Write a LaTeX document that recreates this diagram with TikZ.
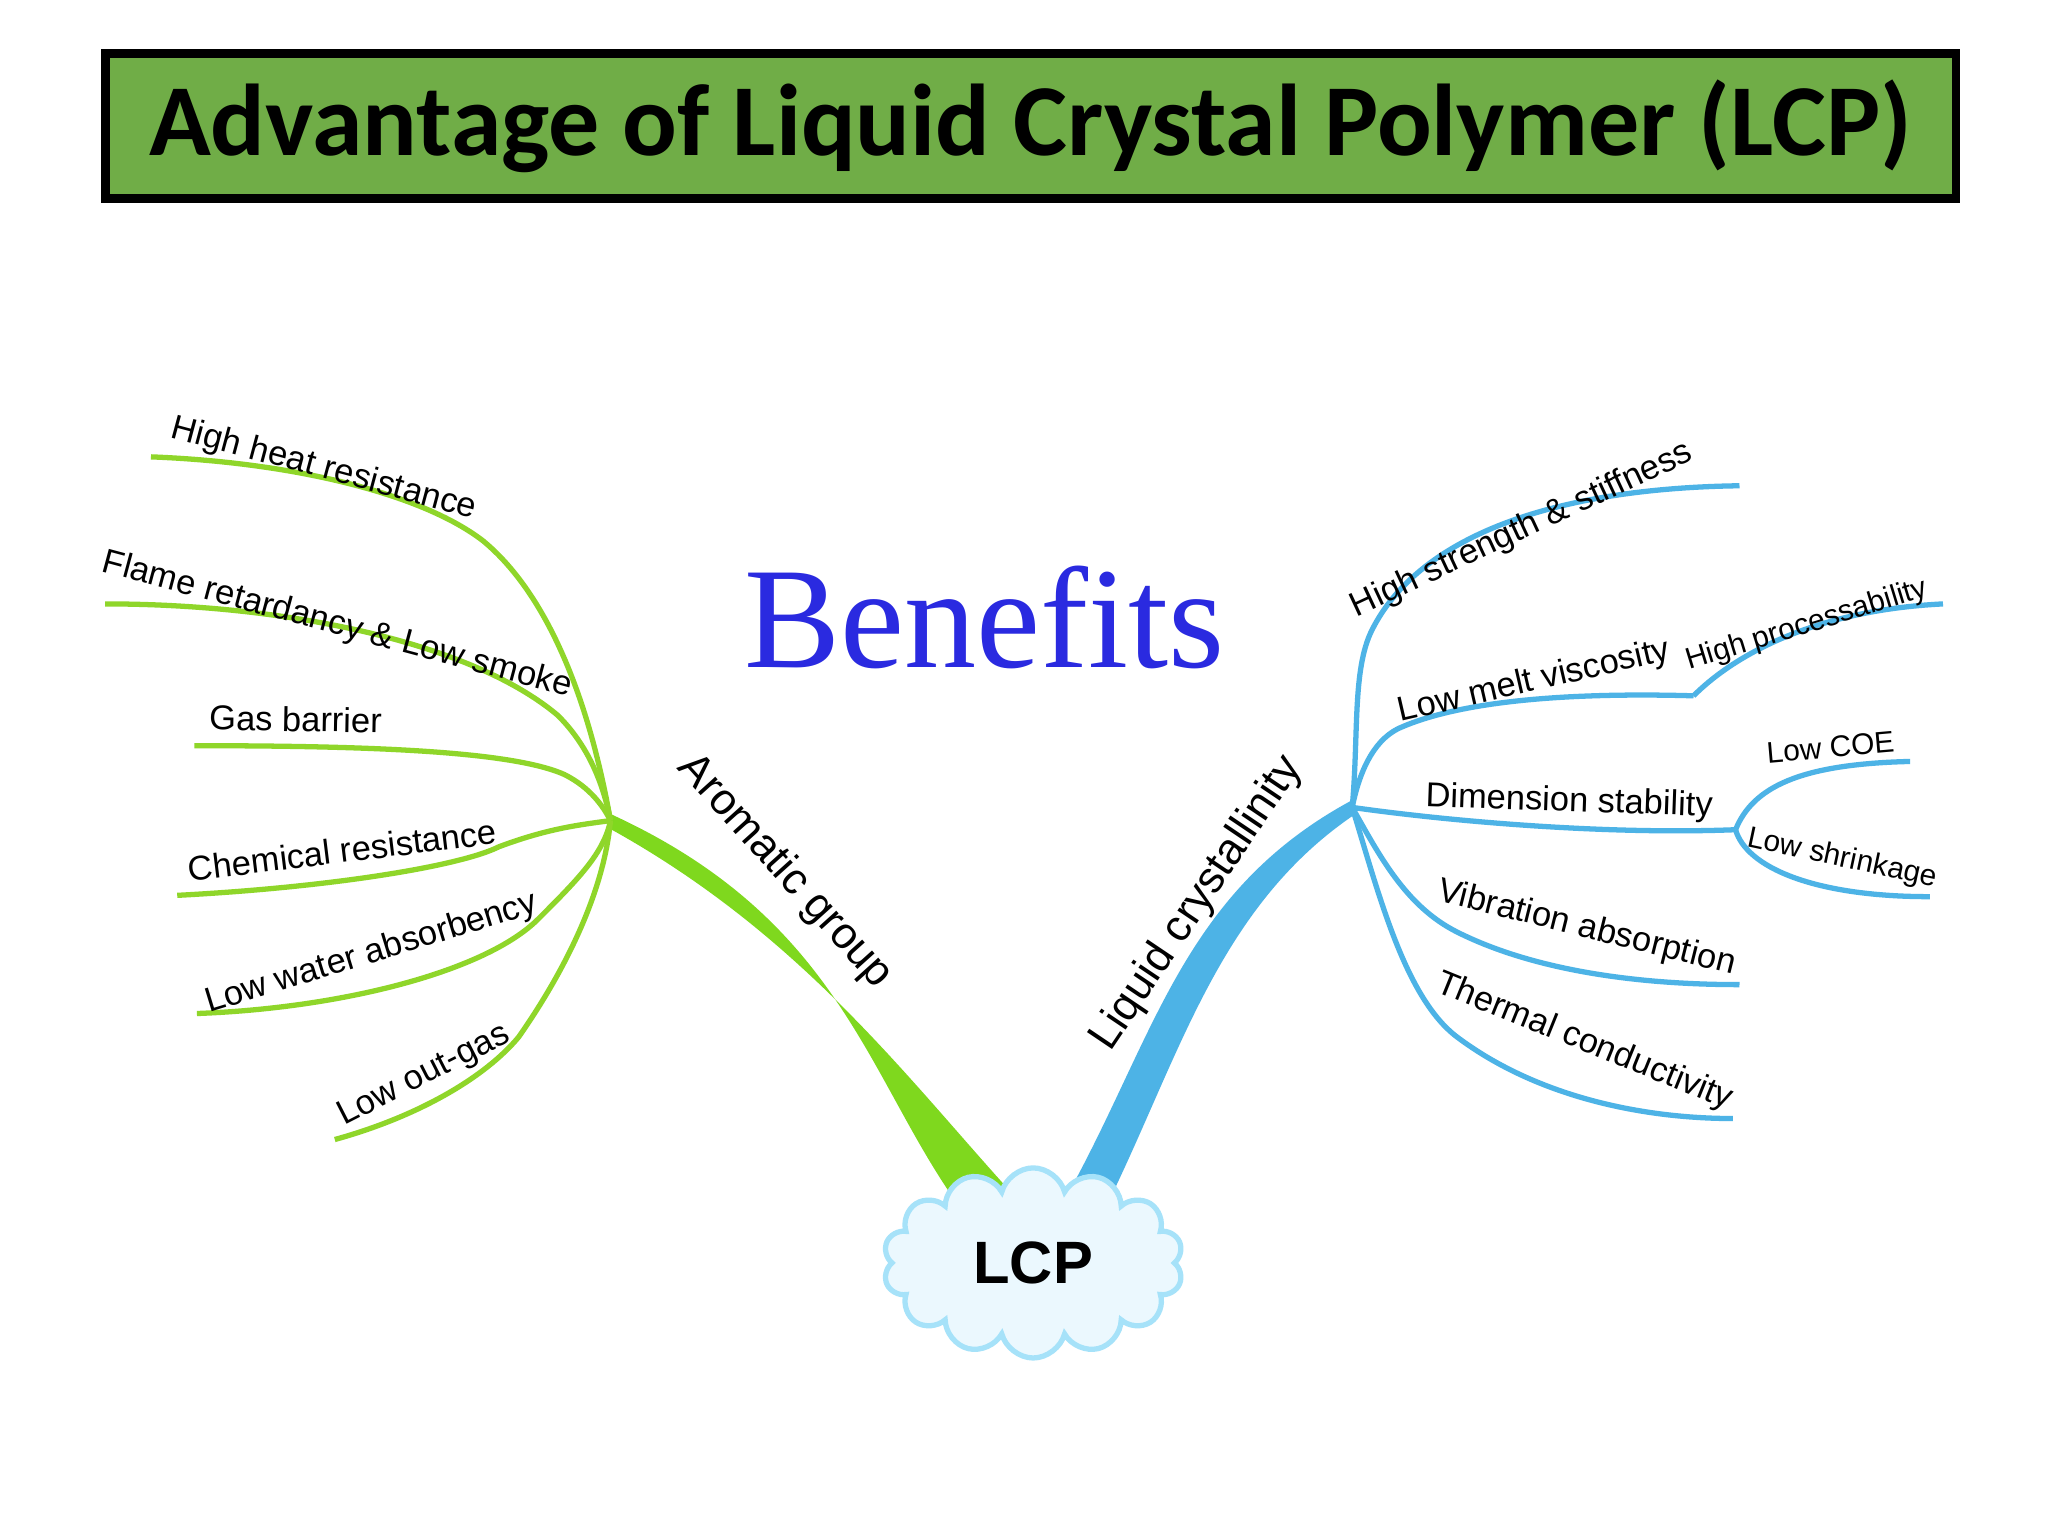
\documentclass[tikz,border=0pt]{standalone}
\usepackage{fontspec}
\setmainfont{Liberation Sans}
\newfontfamily\titlefont{Carlito}
\newfontfamily\serifb{Liberation Serif}
\usetikzlibrary{shapes.symbols}
\definecolor{tgreen}{HTML}{70AD47}
\definecolor{lg}{HTML}{8FD62A}
\definecolor{tg}{HTML}{7FD81E}
\definecolor{lb}{HTML}{4DB3E6}
\definecolor{bblue}{HTML}{2A2AE0}
\begin{document}
\begin{tikzpicture}[x=0.013128cm,y=-0.013128cm,
  gl/.style={lg,line width=1.5pt},
  bl/.style={lb,line width=1.5pt},
  lab/.style={font=\fontsize{9.8}{12}\selectfont,inner sep=1pt,anchor=base},
  slab/.style={lab,font=\fontsize{8.5}{10}\selectfont}]
\useasboundingbox (0,0) rectangle (1560,1170);
\fill[white] (0,0) rectangle (1560,1170);
\node[draw=black,line width=2.5pt,fill=tgreen,minimum width=18.5cm,minimum height=1.45cm] (title) at (785,96) {\titlefont\bfseries\fontsize{29}{32}\selectfont Advantage of Liquid Crystal Polymer (LCP)};
\node[text=bblue,font=\serifb\fontsize{41}{44}\selectfont] (ben) at (750,470) {Benefits};
% hubs
\coordinate (lh) at (465,625);
\coordinate (rh) at (1030,615);
% trunks
\fill[tg] (730,918) .. controls (660,820) and (640,700) .. (465,620) -- (466,632) .. controls (610,712) and (690,820) .. (770,908) -- cycle;
\fill[lb] (812,912) .. controls (880,790) and (900,680) .. (1029,610) -- (1031,621) .. controls (930,690) and (900,800) .. (846,912) -- cycle;
\node[cloud,cloud puffs=14,aspect=1.8,fill=cyan!8,draw=cyan!35,line width=1.5pt,minimum width=3cm,minimum height=1.9cm] (lcp) at (787,962) {\bfseries\fontsize{17}{20}\selectfont LCP};
\node[font=\fontsize{12.5}{14}\selectfont,rotate=-48] (ag) at (598,664) {Aromatic group};
\node[font=\fontsize{12.5}{14}\selectfont,rotate=56] (lc) at (912,688) {Liquid crystallinity};
% left branches
\draw[gl] (115,348) .. controls (220,352) and (320,375) .. (368,412) .. controls (420,455) and (450,540) .. (lh);
\node[lab,rotate=-15] at (245,364) {High heat resistance};
\draw[gl] (80,460) .. controls (220,460) and (360,490) .. (425,545) .. controls (450,570) and (460,600) .. (lh);
\node[lab,rotate=-15] at (255,483) {Flame retardancy \& Low smoke};
\draw[gl] (148,568) .. controls (280,568) and (390,572) .. (430,590) .. controls (450,600) and (460,615) .. (lh);
\node[lab,rotate=-1] at (225,557) {Gas barrier};
\draw[gl] (135,682) .. controls (250,676) and (350,660) .. (380,645) .. controls (420,630) and (445,628) .. (lh);
\node[lab,rotate=7] at (262,657) {Chemical resistance};
\draw[gl] (150,772) .. controls (260,768) and (370,740) .. (410,700) .. controls (440,670) and (460,650) .. (lh);
\node[lab,rotate=17] at (285,733) {Low water absorbency};
\draw[gl] (255,868) .. controls (320,850) and (370,820) .. (395,790) .. controls (430,740) and (460,680) .. (lh);
\node[lab,rotate=27] at (326,825) {Low out-gas};
% right branches
\draw[bl] (rh) .. controls (1035,560) and (1030,510) .. (1045,480) .. controls (1080,410) and (1180,372) .. (1325,370);
\node[lab,rotate=25] at (1162,410) {High strength \& stiffness};
\coordinate (lm) at (1290,530);
\draw[bl] (rh) .. controls (1035,590) and (1045,565) .. (1065,555) .. controls (1120,530) and (1220,528) .. (lm);
\node[lab,rotate=13] at (1170,526) {Low melt viscosity};
\draw[bl] (lm) .. controls (1320,500) and (1380,465) .. (1480,460);
\node[slab,rotate=17] at (1378,482) {High processability};
\coordinate (ds) at (1322,632);
\draw[bl] (rh) .. controls (1100,625) and (1220,636) .. (ds);
\node[lab,rotate=-2] at (1195,618) {Dimension stability};
\draw[bl] (ds) .. controls (1335,600) and (1370,582) .. (1455,580);
\node[slab,rotate=5] at (1395,577) {Low COE};
\draw[bl] (ds) .. controls (1330,660) and (1380,683) .. (1470,683);
\node[slab,rotate=-12] at (1402,660) {Low shrinkage};
\draw[bl] (rh) .. controls (1050,650) and (1070,690) .. (1110,710) .. controls (1170,740) and (1250,750) .. (1325,750);
\node[lab,rotate=-14] at (1207,714) {Vibration absorption};
\draw[bl] (rh) .. controls (1050,680) and (1070,760) .. (1110,790) .. controls (1170,835) and (1250,852) .. (1320,852);
\node[lab,rotate=-22] at (1204,800) {Thermal conductivity};
\end{tikzpicture}
\end{document}
